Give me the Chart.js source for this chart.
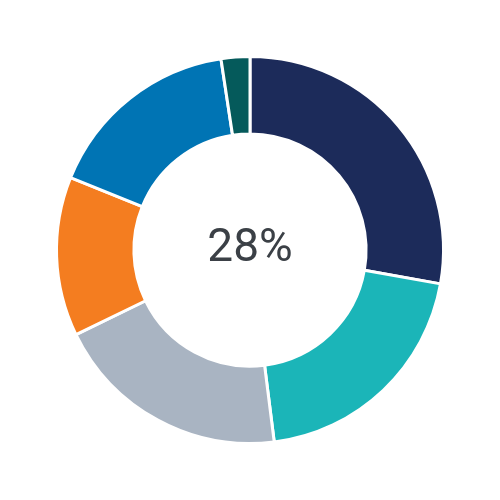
<!DOCTYPE html>
<html>
<head>
<meta charset="utf-8">
<script src="https://cdn.jsdelivr.net/npm/chart.js@4"></script>
<style>
  html, body { margin: 0; padding: 0; background: #ffffff; }
  #wrap { width: 500px; height: 500px; }
</style>
</head>
<body>
<div id="wrap"><canvas id="doughnutChart"></canvas></div>
<script>
// values, clockwise from 12 o'clock
var labels = ['Segment 1', 'Segment 2', 'Segment 3', 'Segment 4', 'Segment 5', 'Segment 6'];
var values = [27.8, 20.2, 19.8, 13.3, 16.5, 2.4];
var colors = ['#1c2b5a', '#1bb5b8', '#a9b4c2', '#f47d20', '#0074b4', '#055a5b'];
var centerLabel = '28%';

var centerText = {
    id: 'centerText',
    afterDraw: function(chart) {
        var ctx = chart.ctx;
        var meta = chart.getDatasetMeta(0).data[0];
        ctx.save();
        ctx.font = '46px Roboto, "Liberation Sans", sans-serif';
        ctx.fillStyle = '#3b4046';
        ctx.textAlign = 'center';
        ctx.textBaseline = 'middle';
        ctx.fillText(centerLabel, meta.x, meta.y - 1);
        ctx.restore();
    }
};

doughnutChart = document.getElementById('doughnutChart').getContext('2d');

var myDoughnutChart = new Chart(doughnutChart, {
    type: 'doughnut',
    data: {
        labels: labels,
        datasets: [{
            data: values,
            backgroundColor: colors,
            borderColor: '#ffffff',
            borderWidth: 3
        }]
    },
    options: {
        responsive: true,
        maintainAspectRatio: false,
        animation: false,
        cutout: '60%',
        plugins: {
            legend: { display: false },
            tooltip: { enabled: false }
        },
        layout: {
            padding: 55
        }
    },
    plugins: [centerText]
});
</script>
</body>
</html>
